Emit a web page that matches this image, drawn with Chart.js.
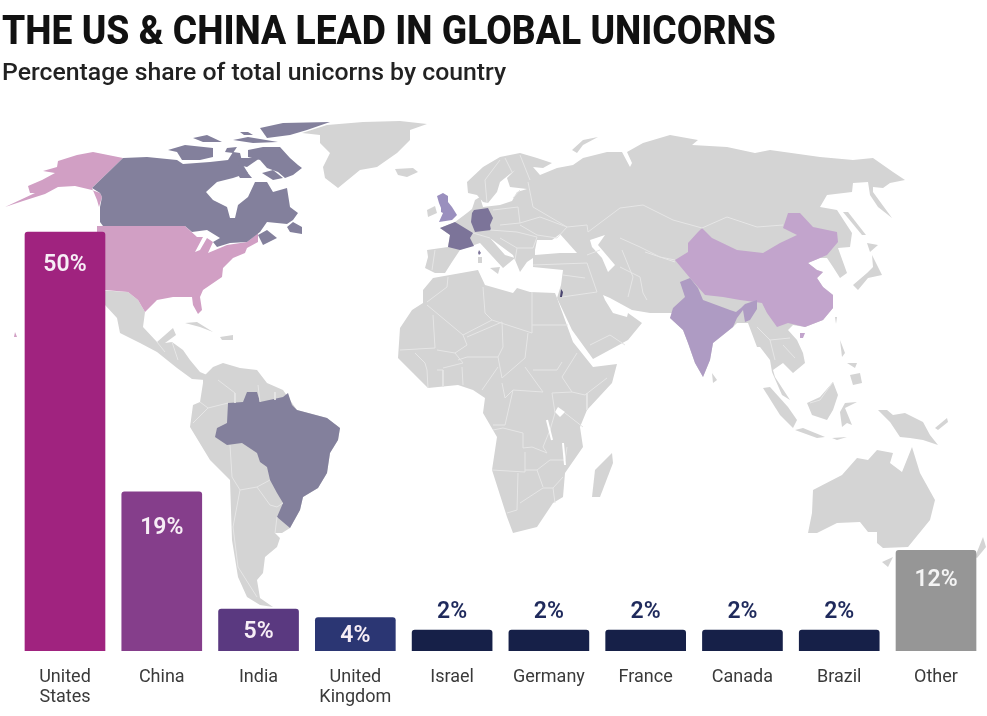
<!DOCTYPE html>
<html>
<head>
<meta charset="utf-8">
<title>Global unicorns</title>
<script src="https://cdn.jsdelivr.net/npm/chart.js@4"></script>
<style>
  html, body { margin: 0; background: #fff; }
  #page { position: relative; width: 987px; height: 716px; overflow: hidden; }
  canvas { position: absolute; left: 0; top: 0; }
  h1, h2 { position: absolute; left: 2px; margin: 0; white-space: nowrap; font-family: Roboto, sans-serif; color: #111; }
  h1 { top: 7px; font-size: 40px; line-height: 48px; font-weight: 800; transform: scaleX(0.931); transform-origin: left top; }
  h2 { top: 58px; font-size: 24.8px; line-height: 28px; font-weight: 500; color: #222; }
</style>
</head>
<body>
<div id="page">
  <canvas id="map" width="987" height="716"></canvas>
  <canvas id="bars" width="987" height="716"></canvas>
  <h1>THE US &amp; CHINA LEAD IN GLOBAL UNICORNS</h1>
  <h2>Percentage share of total unicorns by country</h2>
</div>
<script>
// Bar values
const countries = [['United', 'States'], 'China', 'India', ['United', 'Kingdom'], 'Israel', 'Germany', 'France', 'Canada', 'Brazil', 'Other'];
const shares = [50, 19, 5, 4, 2, 2, 2, 2, 2, 12];
const barColors = ['#a0237f', '#853e8b', '#5a3980', '#2b3673', '#162048', '#162048', '#162048', '#162048', '#162048', '#969696'];
const labelColors = ['#f7eef6', '#f7eef6', '#f7eef6', '#f7eef6', '#1f2a5c', '#1f2a5c', '#1f2a5c', '#1f2a5c', '#1f2a5c', '#f4f4f4'];
const labelOffsets = [33, 36, 23, 19, -18, -18, -18, -18, -18, 30];

// Map colours
const grey = '#d4d4d4';
const usPink = '#d19fc4';
const chinaLilac = '#c2a4cc';
const indiaLilac = '#ae9bc3';
const ukLilac = '#9a8fbe';
const euPurple = '#7c7499';
const slate = '#83809c';

// Land outlines, in map units
const eurasia = [[427,250],[448,247],[450,235],[440,228],[455,222],[467,213],[472,209],[475,200],[480,197],[483,207],[500,205],[512,201],[517,192],[527,189],[510,187],[507,178],[515,170],[500,182],[497,192],[488,203],[483,202],[477,195],[468,193],[467,182],[483,167],[500,157],[520,153],[537,158],[552,163],[543,168],[533,167],[540,175],[557,168],[573,165],[583,158],[607,152],[622,152],[630,167],[632,163],[627,152],[643,143],[670,135],[698,140],[692,145],[727,147],[755,153],[770,150],[820,157],[853,160],[873,158],[893,172],[905,180],[890,183],[883,188],[873,187],[873,192],[892,218],[878,207],[870,195],[868,182],[853,183],[852,192],[827,195],[820,207],[837,210],[852,233],[850,247],[838,248],[847,273],[840,278],[833,267],[827,258],[820,258],[808,263],[817,270],[823,272],[817,278],[823,287],[833,295],[833,308],[823,320],[805,327],[793,325],[788,330],[797,340],[803,353],[805,363],[793,373],[783,363],[773,370],[775,377],[790,400],[782,395],[772,372],[770,360],[760,347],[757,347],[748,323],[737,323],[733,327],[713,343],[710,360],[703,377],[695,363],[688,343],[683,330],[670,318],[673,313],[650,313],[632,310],[610,298],[603,295],[605,300],[613,313],[627,317],[628,313],[642,323],[628,340],[593,359],[572,330],[557,298],[561,285],[563,270],[533,267],[533,258],[527,262],[520,272],[513,255],[490,238],[505,255],[515,258],[503,268],[480,243],[460,250],[452,262],[445,273],[435,273],[425,268],[428,257]];
const blackSea = [[535,250],[537,240],[552,240],[560,234],[577,253],[560,253],[535,255]];
const caspian = [[590,240],[605,235],[598,245],[615,265],[608,272],[602,258],[592,247]];
const africa = [[423,290],[433,278],[478,270],[485,285],[513,293],[517,288],[530,292],[555,293],[557,298],[573,342],[593,367],[617,364],[612,383],[587,410],[580,427],[583,447],[565,473],[563,497],[553,503],[537,527],[513,533],[507,517],[492,470],[497,437],[483,413],[485,398],[473,390],[458,385],[428,388],[413,373],[398,358],[400,328],[412,310],[423,303]];
const lakeVictoria = [[558,407],[565,412],[560,417],[555,412]];
const madagascar = [[612,453],[613,463],[600,497],[592,497],[595,470]];
const greenland = [[302,133],[327,125],[363,122],[400,121],[427,124],[410,130],[410,140],[397,153],[377,167],[360,170],[338,188],[325,178],[323,167],[330,153],[320,143],[320,135]];
const iceland = [[395,169],[413,168],[418,172],[407,177],[398,175]];
const ireland = [[427,210],[435,206],[437,213],[428,217]];
const sardinia = [[478,257],[482,257],[482,263],[478,263]];
const sicily = [[490,268],[500,267],[498,274]];
const novayaZemlya = [[572,150],[583,140],[598,137],[583,145],[577,153]];
const mexico = [[97,290],[128,292],[138,300],[145,312],[143,327],[157,342],[173,328],[176,335],[165,343],[172,342],[183,350],[190,360],[200,372],[207,375],[205,380],[192,379],[177,368],[157,352],[140,343],[120,333],[117,318],[105,305]];
const cuba = [[185,323],[197,322],[213,332],[200,327]];
const hispaniola = [[220,337],[233,335],[233,340],[222,340]];
const southAmerica = [[203,377],[213,367],[223,363],[240,368],[257,370],[267,383],[283,390],[292,403],[297,410],[327,418],[340,428],[338,440],[330,453],[327,473],[318,488],[303,497],[300,510],[290,528],[282,533],[275,533],[280,538],[277,547],[265,557],[263,573],[257,580],[260,598],[273,607],[260,605],[247,597],[238,577],[232,540],[230,480],[210,460],[190,427],[193,405],[200,402],[203,383]];
const japanHonshu = [[872,255],[882,275],[868,278],[858,290],[853,285],[867,273],[873,267]];
const hokkaido = [[867,243],[878,245],[870,252]];
const sakhalin = [[843,212],[848,212],[866,235],[862,235]];
const taiwan = [[835,317],[837,317],[836,324]];
const sriLanka = [[712,373],[717,380],[713,383]];
const luzon = [[840,340],[845,353],[842,357]];
const visayas = [[847,363],[857,363],[855,368]];
const mindanao = [[850,375],[860,373],[862,383],[853,385]];
const sumatra = [[763,388],[770,387],[788,407],[797,420],[793,428],[780,415]];
const java = [[795,430],[803,428],[825,437],[817,438]];
const borneo = [[807,403],[820,397],[833,382],[838,395],[833,410],[827,420],[812,415]];
const sulawesi = [[840,412],[845,403],[857,402],[845,408],[852,425],[847,423],[842,427]];
const sunda = [[832,438],[847,437],[837,440]];
const newGuinea = [[878,410],[887,410],[893,415],[905,413],[923,422],[930,435],[938,445],[923,440],[910,438],[900,437],[890,422]];
const newBritain = [[935,428],[947,418],[948,422],[938,430]];
const australia = [[813,490],[842,475],[857,458],[868,460],[877,450],[893,453],[890,463],[902,472],[912,447],[920,473],[935,500],[930,520],[908,547],[883,548],[877,543],[877,532],[868,532],[860,522],[837,523],[817,533],[808,533],[812,513]];
const tasmania = [[882,562],[893,557],[888,567]];
const newZealand = [[975,557],[983,537],[986,547],[977,558]];

const alaska = [[123,158],[93,152],[77,155],[58,161],[57,167],[43,171],[55,173],[42,180],[28,186],[30,193],[35,193],[5,207],[23,201],[45,194],[58,187],[75,186],[92,190],[100,193],[102,197],[99,207],[97,200],[92,188]];
const usMainland = [[97,226],[185,226],[197,237],[203,237],[195,252],[200,250],[207,238],[213,242],[208,253],[227,245],[247,242],[258,233],[258,242],[247,248],[245,253],[233,258],[223,268],[222,277],[203,290],[200,297],[202,310],[198,314],[193,305],[192,297],[173,297],[157,300],[145,312],[138,300],[128,292],[105,290],[97,290]];
const hawaii = [[15,332],[17,337],[14,337]];
const canada = [[92,188],[123,158],[147,157],[177,160],[183,164],[210,162],[228,160],[233,152],[240,153],[243,165],[248,173],[233,178],[217,182],[206,192],[213,200],[227,207],[230,218],[235,218],[238,205],[248,197],[255,182],[267,182],[273,192],[287,188],[290,207],[298,213],[293,220],[287,224],[267,222],[260,232],[247,242],[230,243],[217,247],[213,242],[220,238],[207,230],[192,232],[185,226],[103,226],[100,222],[100,207],[102,197],[100,193]];
const newfoundland = [[287,227],[293,222],[302,227],[302,234],[290,232]];
const maritimes = [[258,235],[267,230],[277,238],[263,245]];
const baffin = [[248,150],[263,147],[280,147],[290,158],[298,165],[302,168],[293,175],[285,178],[278,172],[267,168],[260,160],[248,157]];
const victoriaIsland = [[168,150],[185,145],[213,148],[213,157],[200,160],[182,160],[177,152]];
const ellesmere = [[260,128],[283,123],[330,122],[307,130],[290,135],[267,138]];
const arcticA = [[227,148],[237,147],[233,153],[225,152]];
const arcticB = [[193,138],[207,135],[222,142],[203,142]];
const arcticC = [[233,140],[248,137],[278,142],[253,143]];
const arcticD = [[240,158],[260,158],[247,167],[238,165]];
const arcticE = [[237,173],[247,172],[252,178],[240,178]];
const arcticF = [[240,132],[248,132],[253,135],[244,135]];
const southampton = [[262,173],[273,170],[283,178],[273,180]];
const brazil = [[228,403],[243,402],[247,392],[257,392],[260,402],[283,397],[288,393],[292,405],[297,410],[327,418],[340,428],[338,440],[330,453],[327,473],[318,488],[303,497],[300,510],[290,528],[277,517],[283,503],[277,493],[270,480],[267,467],[260,462],[257,453],[242,443],[227,445],[215,437],[217,428],[227,423]];
const china = [[702,228],[712,238],[737,250],[763,253],[780,243],[797,235],[783,228],[788,213],[800,213],[813,227],[837,232],[838,242],[827,255],[820,258],[808,263],[817,270],[823,272],[817,278],[823,287],[833,295],[833,308],[823,320],[805,327],[788,323],[777,327],[767,313],[762,303],[755,302],[740,300],[723,297],[705,295],[690,278],[675,260],[688,252],[688,243],[698,232]];
const hainan = [[800,333],[805,333],[803,338],[800,338]];
const india = [[690,278],[698,288],[703,300],[730,310],[736,312],[741,308],[745,304],[757,300],[757,309],[750,320],[745,322],[743,310],[737,318],[733,327],[713,343],[710,360],[703,377],[695,363],[688,343],[683,330],[670,318],[673,308],[685,297],[680,282]];
const britain = [[437,196],[439,203],[441,208],[441,212],[443,213],[439,222],[452,220],[457,215],[452,207],[448,202],[448,196],[443,193]];
const france = [[440,228],[455,222],[473,233],[470,238],[474,246],[460,250],[448,247],[450,235]];
const corsica = [[479,250],[481,253],[479,255],[478,253]];
const germany = [[474,210],[488,208],[493,218],[490,225],[491,230],[475,232],[471,222],[472,213]];
const israel = [[561,289],[563,292],[562,297],[560,297]];

// Frontier lines across the grey land
const frontiers = [
  [[448,277],[447,287],[427,302]], [[427,305],[463,335],[492,320],[485,313],[483,287]],
  [[433,315],[435,348],[400,350]], [[492,320],[532,333],[532,292]], [[532,325],[568,325]],
  [[463,335],[467,345],[455,353],[437,350]], [[467,337],[502,322],[503,347],[498,357],[467,357],[458,360]],
  [[528,333],[525,358],[502,378],[498,357]], [[525,367],[543,392],[513,390],[505,398],[502,383]],
  [[577,353],[562,377],[572,392],[552,393]], [[533,370],[557,370],[562,362]],
  [[572,392],[585,395],[607,378]], [[587,393],[587,410]],
  [[552,393],[555,413],[550,430],[543,447],[547,453],[532,447],[523,448],[523,433],[503,428],[493,430]],
  [[513,390],[505,425],[493,425]], [[565,413],[583,427]],
  [[492,470],[525,472],[525,452]], [[518,473],[517,510],[507,513]],
  [[520,503],[543,488],[553,488],[555,503]], [[525,470],[537,470],[550,460],[565,460],[567,447]],
  [[537,470],[543,487]], [[553,488],[563,477]],
  [[415,353],[425,363],[427,370],[428,388]], [[437,370],[443,370],[443,387]],
  [[462,367],[463,385]], [[455,353],[463,363],[443,368]], [[498,367],[482,390]],
  // South America
  [[230,445],[232,477],[240,490],[233,527],[238,567],[257,597]], [[240,490],[257,487],[270,480]],
  [[257,487],[270,505],[277,507],[283,503]], [[200,402],[208,408],[193,423]], [[208,408],[228,403]],
  [[218,380],[235,393],[235,403]], [[260,402],[258,385]], [[275,392],[275,400]], [[277,517],[275,533]],
  // Central America
  [[157,342],[165,352]], [[172,342],[178,360]],
  // Europe
  [[528,182],[533,207],[567,227],[587,225],[588,232],[620,208],[643,205],[673,220],[702,228]],
  [[702,228],[727,217],[757,227],[783,225]], [[530,180],[520,155]],
  [[500,160],[485,180],[487,203]], [[505,158],[512,172]],
  [[493,210],[518,207],[520,223],[500,225]], [[520,223],[540,217],[567,227],[557,238],[537,235],[520,225]],
  [[490,230],[517,232],[537,237],[533,248],[517,248],[500,238]], [[517,248],[515,260]],
  [[473,233],[490,238]], [[435,250],[432,270]], [[513,198],[520,190]],
  // Middle East and central Asia
  [[533,265],[587,263]], [[587,263],[597,292]], [[563,275],[585,278]], [[562,297],[597,292]],
  [[587,255],[600,250]], [[622,250],[633,277],[628,297]], [[620,238],[640,247],[660,257],[675,260]],
  [[620,267],[640,277],[643,293],[647,300]], [[645,252],[675,262]], [[625,345],[610,335],[590,345]],
  // South East Asia
  [[757,327],[770,340],[775,360]], [[770,340],[790,338]], [[783,345],[795,358]], [[833,382],[820,400],[810,403]]
];
const lakeLines = [
  [[547,420],[552,440]], [[563,443],[565,465]]
];

const landShapes = [
  [eurasia, grey], [africa, grey], [greenland, grey], [iceland, grey], [ireland, grey], [sardinia, grey], [sicily, grey],
  [novayaZemlya, grey], [madagascar, grey], [mexico, grey], [cuba, grey], [hispaniola, grey], [southAmerica, grey],
  [japanHonshu, grey], [hokkaido, grey], [sakhalin, grey], [taiwan, grey], [sriLanka, grey], [luzon, grey], [visayas, grey],
  [mindanao, grey], [sumatra, grey], [java, grey], [borneo, grey], [sulawesi, grey], [sunda, grey], [newGuinea, grey],
  [newBritain, grey], [australia, grey], [tasmania, grey], [newZealand, grey],
  [blackSea, '#ffffff'], [caspian, '#ffffff'], [lakeVictoria, '#ffffff'],
  [alaska, usPink], [usMainland, usPink], [hawaii, usPink],
  [canada, slate], [newfoundland, slate], [maritimes, slate], [baffin, slate], [victoriaIsland, slate], [ellesmere, slate],
  [arcticA, slate], [arcticB, slate], [arcticC, slate], [arcticD, slate], [arcticE, slate], [arcticF, slate], [southampton, slate], [brazil, slate],
  [china, chinaLilac], [hainan, chinaLilac], [india, indiaLilac], [britain, ukLilac],
  [france, euPurple], [corsica, euPurple], [germany, euPurple], [israel, '#4a4570']
];

const toPoints = pts => pts.map(p => ({ x: p[0], y: p[1] }));

const mapDatasets = [];
// lines first in the list draw on top
lakeLines.forEach(line => mapDatasets.push({
  data: toPoints(line), showLine: true, pointRadius: 0, borderColor: '#fff', borderWidth: 2, order: 0
}));
frontiers.forEach(line => mapDatasets.push({
  data: toPoints(line), showLine: true, pointRadius: 0, borderColor: '#e6e6e6', borderWidth: 1, order: 1
}));
landShapes.forEach((shape, i) => {
  const pts = toPoints(shape[0]);
  pts.push(pts[0]);
  mapDatasets.push({
    data: pts,
    showLine: true,
    pointRadius: 0,
    borderWidth: 0,
    fill: 'shape',
    backgroundColor: shape[1],
    order: 1000 - i
  });
});

new Chart(document.getElementById('map'), {
  type: 'scatter',
  data: { datasets: mapDatasets },
  options: {
    responsive: false,
    animation: false,
    events: [],
    layout: { padding: 0 },
    plugins: { legend: { display: false }, tooltip: { enabled: false } },
    scales: {
      x: { type: 'linear', display: false, min: 0, max: 987 },
      y: { type: 'linear', display: false, min: 0, max: 716, reverse: true }
    }
  }
});

// Percentages drawn on or above each bar
const barLabels = {
  id: 'barLabels',
  afterDatasetsDraw(chart) {
    const ctx = chart.ctx;
    chart.getDatasetMeta(0).data.forEach((bar, i) => {
      ctx.save();
      ctx.font = '600 23px Roboto, sans-serif';
      ctx.textAlign = 'center';
      ctx.textBaseline = 'middle';
      ctx.fillStyle = labelColors[i];
      ctx.fillText(shares[i] + '%', bar.x, bar.y + labelOffsets[i]);
      ctx.restore();
    });
  }
};

new Chart(document.getElementById('bars'), {
  type: 'bar',
  data: {
    labels: countries,
    datasets: [{
      data: shares,
      backgroundColor: barColors,
      barThickness: 80,
      minBarLength: 21,
      borderRadius: { topLeft: 3, topRight: 3 },
      borderSkipped: 'bottom'
    }]
  },
  options: {
    responsive: false,
    animation: false,
    events: [],
    layout: { padding: { left: 16.6, right: 2.6, top: 100 } },
    plugins: { legend: { display: false }, tooltip: { enabled: false } },
    scales: {
      x: {
        offset: true,
        grid: { display: false },
        border: { display: false },
        afterFit(axis) { axis.height = 65; },
        ticks: {
          color: '#3a3a3a',
          padding: 8,
          autoSkip: false,
          maxRotation: 0,
          font: { family: 'Roboto, sans-serif', size: 18, lineHeight: 1.12 }
        }
      },
      y: { display: false, min: 0, max: 65.75 }
    }
  },
  plugins: [barLabels]
});
</script>
</body>
</html>
